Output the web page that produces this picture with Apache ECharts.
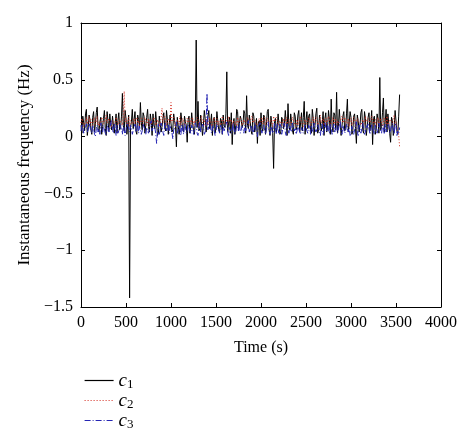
<!DOCTYPE html>
<html>
<head>
<meta charset="utf-8">
<script src="https://cdn.jsdelivr.net/npm/echarts@6/dist/echarts.min.js"></script>
<style>
  html, body { margin: 0; padding: 0; background: #fff; }
  #chart { width: 474px; height: 448px; }
</style>
</head>
<body>
<div id="chart"></div>
<script>
// sample step (s) of the three traces
const step = 10;

// c1 : black solid
const c1 = [
  0.10,0.03, 0.18,0.12, 0.05,0.20, 0.24,0.01, 0.08,0.19, 0.15,0.06, 0.02,0.17, 0.22,0.04, 0.11,0.21, 0.26,0.07,
  0.04,0.13, 0.17,0.02, 0.09,0.16, 0.23,0.07, 0.01,0.22, 0.14,0.05, 0.20,0.11, 0.06,0.18, 0.19,0.03, 0.12,0.20,
  0.03,0.14, 0.21,0.06, 0.08,0.18, 0.38,0.10, 0.05,0.23, 0.16,0.02, 0.11,0.19, -1.42,0.08, 0.13,0.24, 0.07,0.15,
  0.22,0.05, 0.02,0.19, 0.15,0.08, 0.30,0.12, 0.06,0.21, 0.18,0.03, 0.10,0.17, 0.24,0.09, 0.04,0.20, 0.14,0.01,
  0.20,0.10, 0.07,0.22, 0.12,0.01, 0.03,0.18, 0.17,0.04, 0.09,0.16, 0.21,0.08, 0.05,0.23, 0.15,0.02, 0.11,0.19,
  0.19,0.04, 0.06,0.20, 0.14,0.09, -0.09,0.17, 0.16,0.02, 0.08,0.21, 0.22,0.07, 0.04,0.18, 0.13,0.10, -0.05,0.15,
  0.18,0.03, 0.09,0.21, 0.12,0.06, 0.02,0.13, 0.85,0.08, 0.31,0.05, 0.07,0.19, 0.20,0.01, 0.10,0.23, 0.16,0.04,
  0.05,0.18, 0.23,0.07, 0.11,0.20, 0.01,0.14, 0.17,0.03, 0.09,0.22, 0.21,0.06, 0.04,0.16, 0.14,0.02, 0.19,0.10,
  0.08,0.20, 0.57,0.04, 0.12,0.17, 0.03,0.21, -0.07,0.11, 0.16,0.02, 0.10,0.24, 0.22,0.05, 0.06,0.18, 0.15,0.08,
  0.11,0.23, 0.20,0.03, 0.36,0.10, 0.07,0.19, 0.13,0.05, 0.02,0.21, 0.18,0.04, 0.09,0.16, -0.06,0.12, 0.14,0.01,
  0.21,0.07, 0.05,0.19, 0.17,0.02, 0.10,0.22, 0.24,0.06, 0.01,0.18, 0.12,0.03, -0.28,0.13, 0.16,0.04, 0.08,0.20,
  0.19,0.02, 0.04,0.17, 0.15,0.07, 0.11,0.23, 0.22,0.01, 0.29,0.09, 0.06,0.20, 0.13,0.05, 0.02,0.21, 0.18,0.06,
  0.09,0.19, 0.23,0.04, 0.12,0.21, 0.05,0.17, 0.31,0.02, 0.14,0.22, 0.07,0.18, 0.20,0.06, 0.03,0.24, 0.16,0.01,
  0.10,0.20, 0.25,0.03, 0.06,0.19, 0.18,0.05, 0.11,0.22, 0.01,0.16, 0.21,0.04, 0.08,0.23, 0.15,0.02, 0.33,0.09,
  0.04,0.21, 0.19,0.06, 0.39,0.03, 0.09,0.24, 0.13,0.01, 0.02,0.18, 0.22,0.05, 0.07,0.20, 0.33,0.04, 0.12,0.22,
  0.17,0.02, 0.05,0.18, 0.20,0.07, -0.06,0.19, 0.14,0.04, 0.10,0.21, 0.24,0.06, 0.03,0.22, 0.16,0.01, 0.08,0.17,
  0.21,0.05, 0.11,0.23, -0.07,0.16, 0.18,0.02, 0.06,0.20, 0.15,0.03, 0.52,0.06, 0.09,0.21, 0.34,0.04, 0.13,0.24,
  0.04,0.20, 0.19,0.03, -0.05,0.17, 0.14,0.01, 0.08,0.23, 0.22,0.05, 0.02,0.18, 0.37
];

// c2 : red dotted
const c2 = [
  0.12,0.16, 0.15,0.09, 0.10,0.14, 0.17,0.11, 0.13,0.18, 0.09,0.15, 0.16,0.10, 0.14,0.17, 0.11,0.13, 0.18,0.10,
  0.13,0.09, 0.10,0.17, 0.16,0.11, 0.12,0.15, 0.19,0.12, 0.11,0.16, 0.14,0.10, 0.08,0.14, 0.15,0.11, 0.13,0.17,
  0.17,0.10, 0.11,0.15, 0.14,0.12, 0.10,0.18, 0.40,0.13, 0.16,0.10, 0.12,0.17, 0.09,0.14, 0.15,0.11, 0.13,0.16,
  0.11,0.15, 0.17,0.12, 0.14,0.09, 0.10,0.16, 0.16,0.11, 0.12,0.17, 0.18,0.10, 0.13,0.16, 0.09,0.14, 0.15,0.11,
  0.12,0.17, 0.16,0.10, 0.11,0.15, 0.14,0.09, 0.10,0.16, 0.25,0.12, 0.13,0.18, 0.17,0.10, 0.11,0.16, 0.15,0.12,
  0.30,0.13, 0.12,0.17, 0.16,0.09, 0.10,0.15, 0.14,0.11, 0.18,0.10, 0.11,0.16, 0.13,0.10, 0.09,0.14, 0.16,0.12,
  0.13,0.16, 0.11,0.14, 0.17,0.10, 0.14,0.11, 0.10,0.17, 0.15,0.09, 0.12,0.16, 0.18,0.12, 0.13,0.15, 0.09,0.13,
  0.16,0.10, 0.12,0.17, 0.14,0.09, 0.11,0.15, 0.17,0.11, 0.13,0.16, 0.10,0.14, 0.15,0.10, 0.12,0.18, 0.16,0.11,
  0.11,0.16, 0.14,0.10, 0.18,0.13, 0.12,0.15, 0.09,0.14, 0.15,0.11, 0.13,0.09, 0.17,0.12, 0.11,0.16, 0.14,0.10,
  0.12,0.15, 0.16,0.11, 0.10,0.17, 0.15,0.10, 0.13,0.16, 0.18,0.12, 0.11,0.15, 0.14,0.10, 0.09,0.13, 0.16,0.11,
  0.13,0.17, 0.11,0.14, 0.17,0.10, 0.12,0.16, 0.15,0.11, 0.10,0.15, 0.14,0.09, 0.18,0.13, 0.12,0.17, 0.16,0.10,
  0.11,0.14, 0.15,0.10, 0.13,0.16, 0.09,0.13, 0.17,0.11, 0.12,0.15, 0.14,0.10, 0.10,0.17, 0.16,0.12, 0.13,0.09,
  0.15,0.10, 0.11,0.16, 0.18,0.12, 0.13,0.09, 0.10,0.15, 0.16,0.11, 0.12,0.17, 0.14,0.10, 0.09,0.14, 0.17,0.12,
  0.12,0.17, 0.15,0.10, 0.11,0.14, 0.19,0.12, 0.13,0.16, 0.10,0.14, 0.16,0.11, 0.12,0.18, 0.14,0.09, 0.11,0.15,
  0.17,0.11, 0.13,0.16, 0.10,0.14, 0.15,0.10, 0.12,0.16, 0.18,0.12, 0.11,0.17, 0.14,0.10, 0.13,0.16, 0.09,0.14,
  0.16,0.10, 0.12,0.17, 0.15,0.09, 0.11,0.16, 0.17,0.12, 0.13,0.10, 0.10,0.15, 0.14,0.11, 0.18,0.13, 0.12,0.16,
  0.15,0.12, 0.11,0.18, 0.16,0.10, 0.13,0.15, 0.09,0.14, 0.17,0.11, 0.12,0.16, 0.15,0.09, 0.10,0.17, 0.14,0.11,
  0.18,0.10, 0.12,0.15, 0.16,0.13, 0.11,0.16, 0.19,0.10, 0.13,0.08, 0.04,0.01, -0.09
];

// c3 : blue dash-dot
const c3 = [
  0.05,0.11, 0.09,0.03, 0.02,0.08, 0.11,0.04, 0.06,0.12, 0.13,0.05, 0.03,0.10, 0.08,0.02, 0.00,0.07, 0.10,0.04,
  0.07,0.02, 0.12,0.06, 0.04,0.10, 0.09,0.03, 0.01,0.08, 0.11,0.04, 0.06,0.12, 0.14,0.07, 0.03,0.11, 0.08,0.01,
  0.10,0.03, 0.05,0.11, 0.12,0.06, 0.02,0.10, 0.09,0.01, 0.06,0.12, 0.13,0.07, 0.04,0.10, 0.08,0.02, 0.01,0.09,
  0.11,0.04, 0.07,0.12, 0.03,0.09, 0.10,0.02, 0.05,0.11, 0.12,0.06, 0.02,0.08, 0.09,0.03, 0.06,0.12, 0.14,0.05,
  0.04,0.10, 0.08,0.03, -0.06,0.05, 0.11,0.02, 0.05,0.12, 0.09,0.04, 0.01,0.10, 0.12,0.05, 0.06,0.11, 0.03,0.09,
  0.10,0.04, -0.02,0.06, 0.08,0.11, 0.13,0.03, 0.04,0.10, 0.07,0.01, 0.11,0.06, 0.02,0.12, 0.09,0.03, 0.05,0.11,
  0.12,0.05, 0.03,0.10, 0.08,0.02, 0.06,0.12, 0.10,0.03, 0.01,0.09, 0.13,0.04, 0.05,0.11, 0.09,0.02, 0.04,0.12,
  0.38,0.06, 0.07,0.12, 0.11,0.03, 0.02,0.10, 0.09,0.01, 0.05,0.11, 0.12,0.06, 0.03,0.10, 0.08,0.02, 0.10,0.05,
  0.06,0.11, 0.13,0.04, 0.01,0.08, 0.09,0.03, 0.05,0.12, 0.11,0.02, 0.04,0.10, 0.08,0.05, 0.12,0.03, 0.02,0.09,
  0.07,0.03, 0.10,0.05, 0.05,0.11, 0.14,0.04, 0.03,0.10, 0.09,0.02, 0.06,0.12, 0.11,0.04, 0.00,0.09, 0.08,0.12,
  0.12,0.03, 0.04,0.10, 0.09,0.02, 0.06,0.11, 0.13,0.05, 0.02,0.09, 0.10,0.03, 0.05,0.12, 0.08,0.02, 0.11,0.06,
  0.03,0.11, 0.09,0.02, 0.06,0.10, 0.12,0.04, 0.01,0.11, 0.08,0.03, 0.10,0.06, 0.04,0.12, 0.13,0.05, 0.07,0.02,
  0.05,0.10, 0.11,0.04, 0.02,0.08, 0.09,0.03, 0.06,0.11, 0.12,0.05, 0.03,0.10, 0.08,0.02, 0.10,0.06, 0.04,0.12,
  0.13,0.04, 0.06,0.11, 0.09,0.03, 0.01,0.09, 0.11,0.02, 0.05,0.12, 0.08,0.04, 0.12,0.06, 0.03,0.11, 0.10,0.02,
  0.07,0.11, 0.04,0.09, 0.11,0.03, 0.06,0.10, 0.14,0.05, 0.02,0.10, 0.09,0.03, 0.05,0.11, 0.12,0.04, 0.08,0.01,
  0.03,0.09, 0.10,0.02, 0.06,0.11, 0.13,0.04, 0.01,0.10, 0.09,0.03, 0.07,0.12, 0.11,0.02, 0.04,0.10, 0.08,0.12,
  0.12,0.02, 0.05,0.11, 0.09,0.04, 0.02,0.10, 0.10,0.03, 0.06,0.12, 0.13,0.05, 0.03,0.10, 0.08,0.02, 0.11,0.04,
  0.04,0.11, 0.09,0.03, 0.06,0.10, 0.12,0.05, 0.02,0.12, 0.10,0.01, 0.05,0.03, 0.08
];

const seriesNames = ['c1', 'c2', 'c3'];
const seriesColors = ['#000000', '#d42a1e', '#2626b4'];
const seriesDash = ['solid', [1, 2], [6, 2, 1, 2]];

const font = 'Liberation Serif';

function toPairs(arr) {
  return arr.map((v, i) => [i * step, v]);
}

const chart = echarts.init(document.getElementById('chart'));

const axisCommon = {
  axisLine: { show: true, onZero: false, lineStyle: { color: '#000', width: 1 } },
  axisTick: { show: true, inside: true, length: 4, lineStyle: { color: '#000' } },
  splitLine: { show: false }
};

const option = {
  animation: false,
  grid: { left: 81, right: 33, top: 23, bottom: 141 },
  legend: {
    orient: 'vertical',
    left: 79,
    top: 366,
    height: 82,
    itemWidth: 29,
    itemHeight: 12,
    itemGap: 0,
    data: seriesNames,
    itemStyle: { opacity: 0 },
    lineStyle: { width: 1.2 },
    formatter: name => '{i|c}{s|' + name.slice(1) + '}',
    textStyle: {
      fontFamily: font,
      fontSize: 18,
      color: '#000',
      rich: {
        i: { fontFamily: font, fontStyle: 'italic', fontSize: 19, lineHeight: 21, verticalAlign: 'middle', color: '#000' },
        s: { fontFamily: font, fontSize: 13, lineHeight: 13, verticalAlign: 'bottom', color: '#000' }
      }
    }
  },
  xAxis: [
    Object.assign({}, axisCommon, {
      type: 'value', min: 0, max: 4000, interval: 500,
      name: 'Time (s)', nameLocation: 'middle', nameGap: 33,
      nameTextStyle: { fontFamily: font, fontSize: 16, color: '#000' },
      axisLabel: { fontFamily: font, fontSize: 16, color: '#000', margin: 8, formatter: v => String(v) }
    }),
    Object.assign({}, axisCommon, {
      type: 'value', min: 0, max: 4000, interval: 500, position: 'top',
      axisLabel: { show: false }
    })
  ],
  yAxis: [
    Object.assign({}, axisCommon, {
      type: 'value', min: -1.5, max: 1, interval: 0.5,
      name: 'Instantaneous frequency (Hz)', nameLocation: 'middle', nameGap: 47,
      nameTextStyle: { fontFamily: font, fontSize: 17, color: '#000' },
      axisLabel: {
        fontFamily: font, fontSize: 16, color: '#000', margin: 8,
        formatter: v => String(v).replace('-', '\u2212')
      }
    }),
    Object.assign({}, axisCommon, {
      type: 'value', min: -1.5, max: 1, interval: 0.5, position: 'right',
      axisLabel: { show: false }
    })
  ],
  series: [c1, c2, c3].map((arr, k) => ({
    name: seriesNames[k],
    type: 'line',
    data: toPairs(arr),
    showSymbol: false,
    symbol: 'none',
    color: seriesColors[k],
    lineStyle: { color: seriesColors[k], width: 1, type: seriesDash[k] },
    z: 2 + k
  }))
};

chart.setOption(option);
</script>
</body>
</html>
